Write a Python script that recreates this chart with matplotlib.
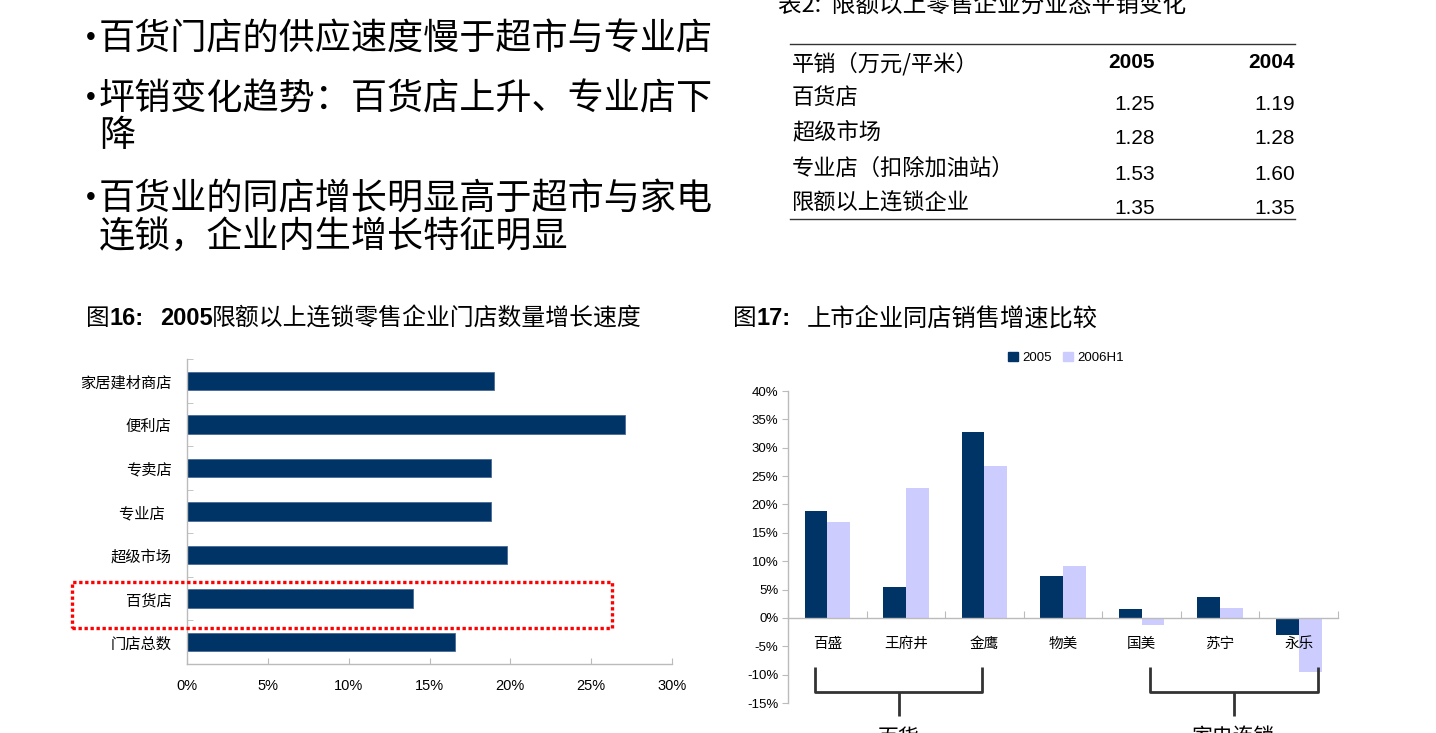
import matplotlib
matplotlib.use("Agg")
import matplotlib.pyplot as plt
import numpy as np
from matplotlib.patches import Rectangle
from matplotlib.lines import Line2D

plt.rcParams['font.family'] = ['Noto Sans CJK SC', 'DejaVu Sans']

# ---------------- data ----------------
bullet_lines = ["百货门店的供应速度慢于超市与专业店",
                "坪销变化趋势：百货店上升、专业店下",
                "降",
                "百货业的同店增长明显高于超市与家电",
                "连锁，企业内生增长特征明显"]
bullet_marks = [True, True, False, True, False]

table_title = "表2:  限额以上零售企业分业态平销变化"
table_header = ["平销（万元/平米）", "2005", "2004"]
table_rows = ["百货店", "超级市场", "专业店（扣除加油站）", "限额以上连锁企业"]
table_2005 = ["1.25", "1.28", "1.53", "1.35"]
table_2004 = ["1.19", "1.28", "1.60", "1.35"]

fig16_cats = ["家居建材商店", "便利店", "专卖店", "专业店  ", "超级市场", "百货店", "门店总数"]
fig16_vals = [19.0, 27.1, 18.8, 18.8, 19.8, 14.0, 16.6]
fig16_xticks = [0, 5, 10, 15, 20, 25, 30]

fig17_cats = ["百盛", "王府井", "金鹰", "物美", "国美", "苏宁", "永乐"]
fig17_2005 = [18.8, 5.4, 32.8, 7.3, 1.5, 3.75, -3.0]
fig17_2006h1 = [16.9, 22.9, 26.8, 9.2, -1.3, 1.8, -9.6]
fig17_yticks = [-15, -10, -5, 0, 5, 10, 15, 20, 25, 30, 35, 40]
fig17_series = ["2005", "2006H1"]
fig17_groups = ["百货", "家电连锁"]

NAVY = "#003366"
LAV = "#CCCCFF"
AXC = "#BBBBBB"
W, H = 1436, 733

fig = plt.figure(figsize=(W / 100, H / 100), dpi=100)

def fx(px):
    return px / W

def fy(py):
    return 1 - py / H

# ---------------- bullet text ----------------
bullet_y = [40, 100, 136, 200, 237]
for t, m, y in zip(bullet_lines, bullet_marks, bullet_y):
    if m:
        fig.text(fx(86), fy(y - 2), "•", fontsize=20, va='center', ha='left', family='Liberation Sans')
    fig.text(fx(99), fy(y), t, fontsize=26, va='center', ha='left')

# ---------------- table ----------------
fig.text(fx(778), fy(5), table_title, fontsize=17, va='center', ha='left')
fig.add_artist(Line2D([fx(790), fx(1295)], [fy(44), fy(44)], color='#333333', lw=1))
fig.add_artist(Line2D([fx(790), fx(1295)], [fy(219), fy(219)], color='#333333', lw=1))
fig.text(fx(792), fy(64), table_header[0], fontsize=16, va='center', ha='left')
fig.text(fx(1155), fy(62), table_header[1], fontsize=15, va='center', ha='right',
         family='Liberation Sans', weight='bold')
fig.text(fx(1295), fy(62), table_header[2], fontsize=15, va='center', ha='right',
         family='Liberation Sans', weight='bold')
row_y = [98, 132, 168, 203]
for lab, a, b, y in zip(table_rows, table_2005, table_2004, row_y):
    fig.text(fx(792), fy(y), lab, fontsize=16, va='center', ha='left')
    fig.text(fx(1155), fy(y + 6), a, fontsize=15, va='center', ha='right', family='Liberation Sans')
    fig.text(fx(1295), fy(y + 6), b, fontsize=15, va='center', ha='right', family='Liberation Sans')

# ---------------- titles ----------------
fig.text(fx(86), fy(319), "图", fontsize=17, va='center', ha='left')
fig.text(fx(109), fy(319), "16:", fontsize=17, va='center', ha='left', weight='bold', family='Liberation Sans')
fig.text(fx(160), fy(319), "2005", fontsize=17, va='center', ha='left', weight='bold', family='Liberation Sans')
fig.text(fx(212), fy(319), "限额以上连锁零售企业门店数量增长速度", fontsize=17.2, va='center', ha='left')

fig.text(fx(733), fy(319), "图", fontsize=17, va='center', ha='left')
fig.text(fx(756), fy(319), "17:", fontsize=17, va='center', ha='left', weight='bold', family='Liberation Sans')
fig.text(fx(807), fy(319), "上市企业同店销售增速比较", fontsize=17.5, va='center', ha='left')

# ---------------- figure 16 ----------------
ax1 = fig.add_axes([fx(187), fy(664), fx(672) - fx(187), (664 - 359) / H])
ypos = np.arange(len(fig16_cats))
ax1.barh(ypos, fig16_vals, height=0.42, color=NAVY, edgecolor='#4A6A96', linewidth=0.6)
ax1.set_xlim(0, 30)
ax1.set_ylim(len(fig16_cats) - 0.5, -0.5)
ax1.set_yticks(ypos)
ax1.set_yticklabels(fig16_cats, fontsize=11)
ax1.set_yticks(np.arange(len(fig16_cats) + 1) - 0.5, minor=True)
ax1.set_xticks(fig16_xticks)
ax1.set_xticklabels([f"{v}%" for v in fig16_xticks], fontsize=10.5, family='Liberation Sans')
ax1.tick_params(axis='y', which='major', length=0, pad=11)
ax1.tick_params(axis='y', which='minor', length=4, direction='in', color=AXC)
ax1.tick_params(axis='x', length=4, direction='in', color=AXC, pad=11)
for s in ['top', 'right']:
    ax1.spines[s].set_visible(False)
for s in ['left', 'bottom']:
    ax1.spines[s].set_color(AXC)
    ax1.spines[s].set_linewidth(1)

# red dotted highlight box
fig.add_artist(Rectangle((fx(72), fy(628)), fx(612) - fx(72), (628 - 582) / H,
                         fill=False, edgecolor='#FF0000', lw=2.4, linestyle=(0, (1, 0.8))))

# ---------------- figure 17 ----------------
ax2 = fig.add_axes([fx(788), fy(703), fx(1338) - fx(788), (703 - 391) / H])
xpos = np.arange(len(fig17_cats))
bw = 0.29
ax2.bar(xpos - bw / 2, fig17_2005, width=bw, color=NAVY, label=fig17_series[0])
ax2.bar(xpos + bw / 2, fig17_2006h1, width=bw, color=LAV, label=fig17_series[1])
ax2.set_xlim(-0.5, len(fig17_cats) - 0.5)
ax2.set_ylim(-15, 40)
ax2.set_yticks(fig17_yticks)
ax2.set_yticklabels([f"{v}%" for v in fig17_yticks], fontsize=9.5, family='Liberation Sans')
ax2.tick_params(axis='y', length=4, direction='out', color=AXC, pad=3)
ax2.spines['bottom'].set_position(('data', 0))
ax2.set_xticks(np.arange(len(fig17_cats) + 1) - 0.5)
ax2.set_xticklabels([])
ax2.tick_params(axis='x', length=5, direction='in', color=AXC)
for s in ['top', 'right']:
    ax2.spines[s].set_visible(False)
for s in ['left', 'bottom']:
    ax2.spines[s].set_color(AXC)
    ax2.spines[s].set_linewidth(1)
for x, c in zip(xpos, fig17_cats):
    ax2.text(x, -4.6, c, fontsize=10.5, ha='center', va='center')

# group brackets
brackets = [(-0.155, 1.97, 0.91), (4.105, 6.243, 5.174)]
for (l, r, m), g in zip(brackets, fig17_groups):
    kw = dict(color='#333333', lw=2, clip_on=False, solid_capstyle='butt')
    ax2.plot([l, l, r, r], [-8.6, -13.0, -13.0, -8.6], **kw)
    ax2.plot([m, m], [-13.0, -17.3], **kw)
    ax2.text(m, -19.2, g, fontsize=15, ha='center', va='top', clip_on=False)

handles = [Rectangle((0, 0), 1, 1, color=NAVY), Rectangle((0, 0), 1, 1, color=LAV)]
fig.legend(handles, fig17_series, loc='center', bbox_to_anchor=(fx(1066), fy(358)),
           ncol=2, frameon=False, prop={'family': 'Liberation Sans', 'size': 9.5},
           handlelength=0.75, handleheight=0.75, handletextpad=0.3, columnspacing=0.9)

fig.savefig("out.png", dpi=100)
